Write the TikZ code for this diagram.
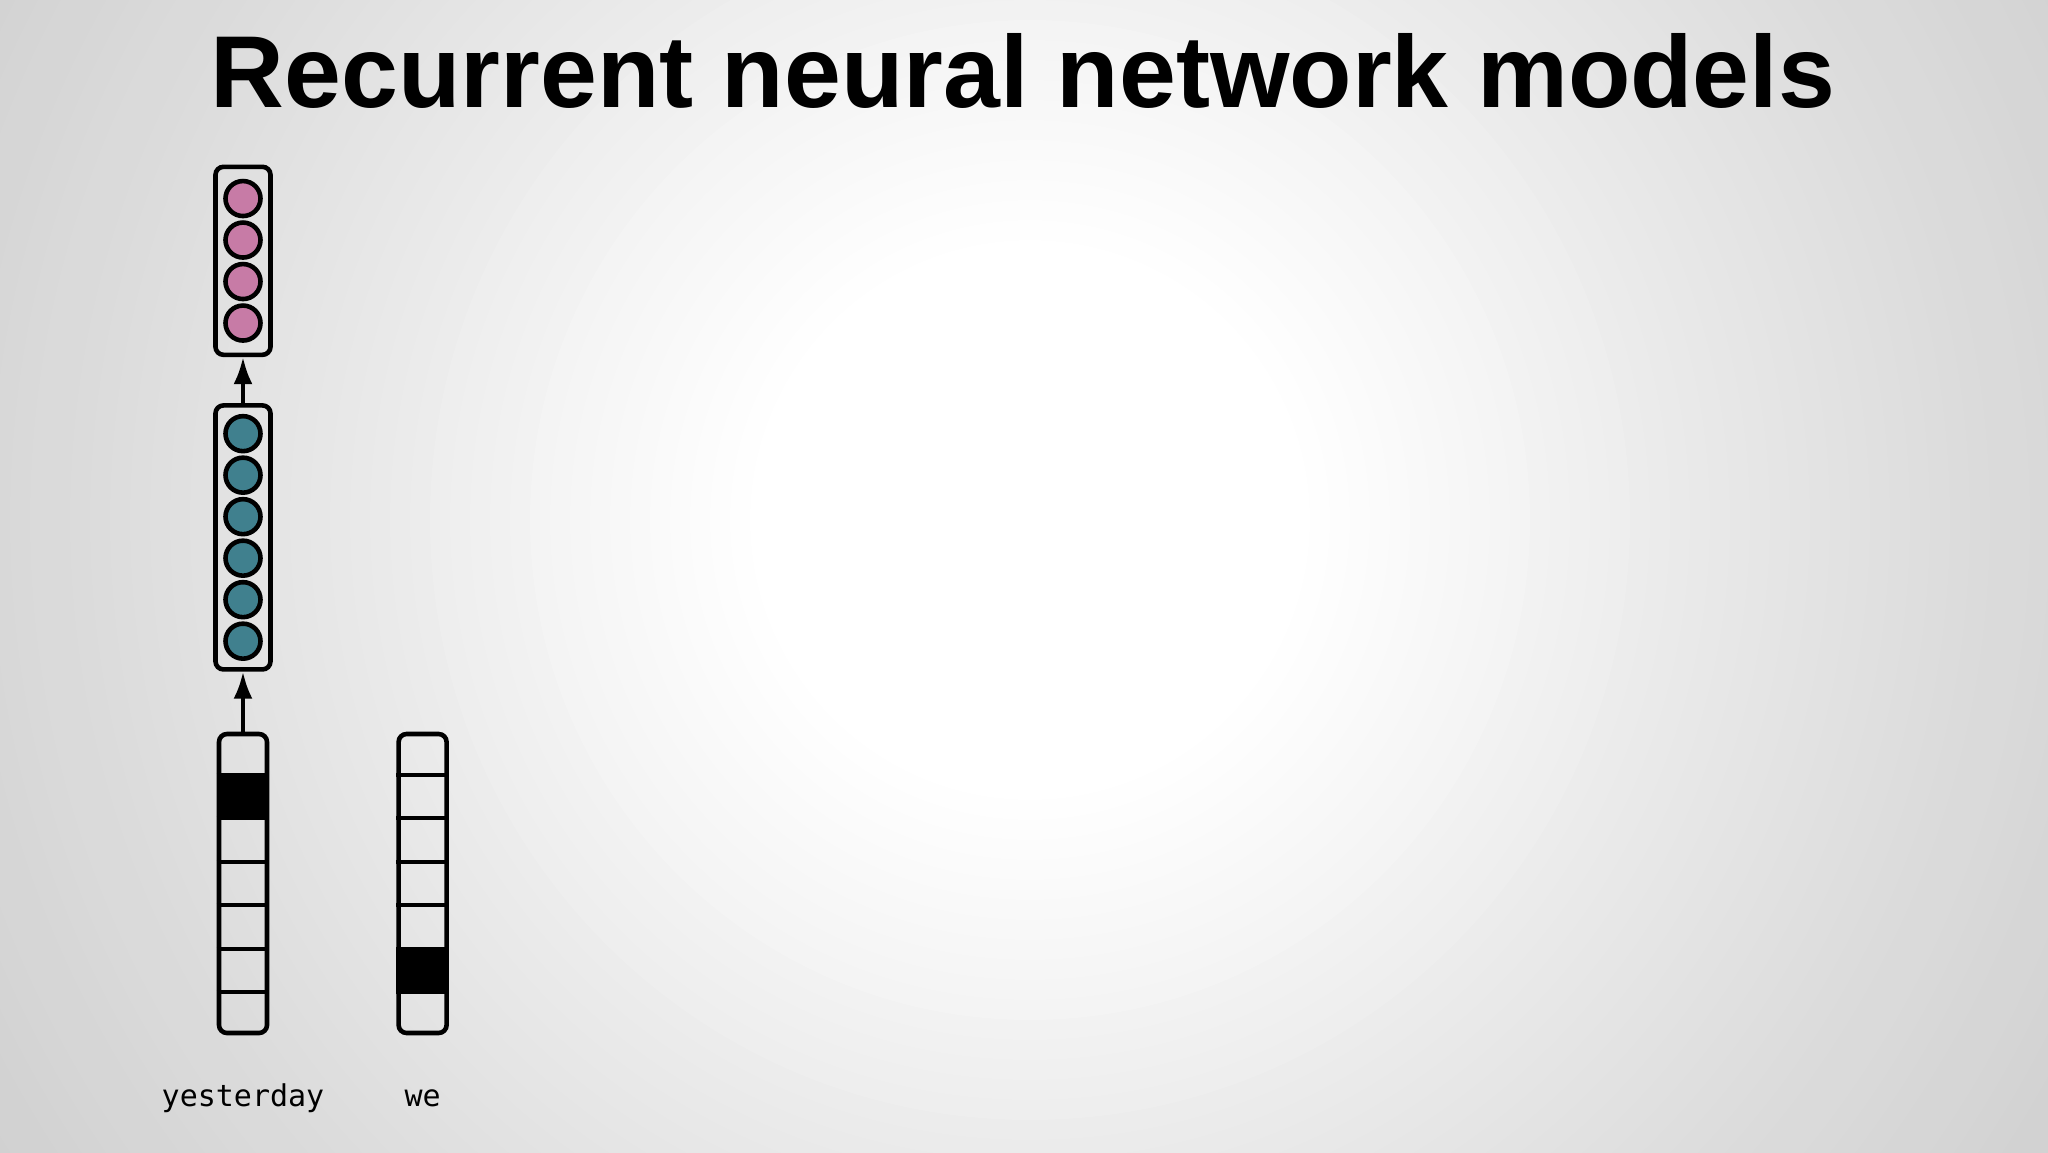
\documentclass[tikz,border=0pt]{standalone}
\usepackage{fontspec}
\usepackage{tikz}
\usetikzlibrary{arrows.meta,positioning,calc}
\newfontfamily\titlefont{Liberation Sans}
\newfontfamily\wordfont{DejaVu Sans Mono}
\definecolor{rnnpink}{RGB}{199,123,166}
\definecolor{rnnteal}{RGB}{64,128,142}
\definecolor{bgedge}{RGB}{207,207,207}
\tikzstyle{arrow} = [line width=2pt, -{Latex[length=13.5pt,width=9.5pt]}]
\tikzstyle{layer} = [rectangle, rounded corners=4pt, draw, line width=2.3pt, minimum width=27.5pt, inner sep=0pt]
\tikzstyle{unit} = [circle, draw, line width=2.3pt, minimum size=17.5pt, inner sep=0pt]
\tikzstyle{onehot} = [rectangle, rounded corners=4pt, draw, line width=2.3pt, minimum width=24pt, minimum height=149.5pt, inner sep=0pt]
\tikzstyle{word} = [font=\wordfont\fontsize{15}{18}\selectfont, anchor=base]

\begin{document}
\begin{tikzpicture}[x=0.5pt, y=-0.5pt]
% slide background, light in the middle
\useasboundingbox (0,0) rectangle (2048,1152);
\begin{scope}
\clip (0,0) rectangle (2048,1152);
\fill[bgedge] (0,0) rectangle (2048,1152);
\foreach \r in {1220,1200,...,280} {
  \pgfmathtruncatemacro\g{\r<290 ? 255 : (\r<500 ? 255-(\r-290)*11/210 : (\r<700 ? 244-(\r-500)*12/200 : (\r<1000 ? 232-(\r-700)*14/300 : 218-(\r-1000)*8/200)))}
  \definecolor{bgtmp}{RGB}{\g,\g,\g}
  \fill[bgtmp] (1030,520) circle (\r);
}
\end{scope}
\node[font=\titlefont\bfseries\fontsize{51.1}{60}\selectfont, anchor=base] (title) at (1023,107) {Recurrent neural network models};

% one-hot inputs
\node (yvec) [onehot] at (243,883.5) {};
\node (wvec) [onehot, right=63.5pt of yvec] {};
\foreach \v/\k in {yvec/2, wvec/6} {
  \fill ($(\v.north west)!{(\k-1)/7}!(\v.south west)$) rectangle ($(\v.north east)!{\k/7}!(\v.south east)$);
  \foreach \j in {1,...,6}
    \draw[line width=2pt] ($(\v.north west)!{\j/7}!(\v.south west)$) -- ($(\v.north east)!{\j/7}!(\v.south east)$);
}

% hidden and output layers
\node (hidden) [layer, minimum height=132pt, above=30pt of yvec] {};
\node (output) [layer, minimum height=94pt, above=23pt of hidden] {};
\foreach \i in {1,...,6}
  \node (h\i) [unit, fill=rnnteal] at ($(hidden.center)+(0,{(\i-3.5)*41.5})$) {};
\foreach \i in {1,...,4}
  \node (o\i) [unit, fill=rnnpink] at ($(output.center)+(0,{(\i-2.5)*41.5})$) {};

\draw[arrow] (yvec) -- (hidden);
\draw[arrow] (hidden) -- (output);

\node (ylab) [word] at ($(yvec.south)+(0,71)$) {yesterday};
\node (wlab) [word] at ($(wvec.south)+(0,71)$) {we};
\end{tikzpicture}
\end{document}
